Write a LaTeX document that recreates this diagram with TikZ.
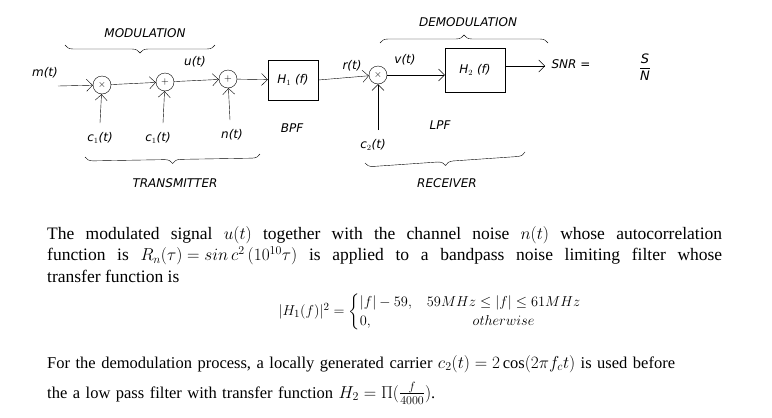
\documentclass[tikz,border=0pt]{standalone}
\usepackage{amsmath,amssymb}
\usepackage{fontspec}
\setmainfont{Liberation Serif}
\newfontfamily\hand{DejaVu Sans}
\usetikzlibrary{arrows.meta,decorations.pathreplacing}
\begin{document}
\begin{tikzpicture}[x=1pt,y=-1pt,
  hw/.style={font=\hand\itshape\fontsize{12}{14}\selectfont},
  op/.style={circle,draw,inner sep=0pt,minimum size=18pt,font=\normalsize},
  blk/.style={draw,minimum width=50pt,minimum height=40pt,font=\hand\itshape\fontsize{12}{14}\selectfont},
  ar/.style={-{Straight Barb[length=6pt]}},
  br/.style={decorate,decoration={brace,amplitude=8pt}}]
\useasboundingbox[fill=white] (0,0) rectangle (772,418);
\coordinate (in) at (58,86);
\node[op] (m1) at (102,85) {$\times$};
\node[op] (a1) at (165,82) {$+$};
\node[op] (a2) at (228,79) {$+$};
\node[blk] (h1) at (293,80) {H$_1$ (f)};
\node[op] (m2) at (378,75) {$\times$};
\node[blk,minimum width=60pt,minimum height=44pt] (h2) at (475,70) {H$_2$ (f)};
\coordinate (out) at (545,66);
\node[hw] (ml) at (45,73) {m(t)};
\node[hw] (ul) at (195,62) {u(t)};
\node[hw] (rl) at (352,66) {r(t)};
\node[hw] (vl) at (405,60) {v(t)};
\node[hw] (c1a) at (100,138) {c$_1$(t)};
\node[hw] (c1b) at (158,138) {c$_1$(t)};
\node[hw] (nl) at (232,135) {n(t)};
\node[hw] (c2) at (373,145) {c$_2$(t)};
\node[hw] (bpf) at (292,128) {BPF};
\node[hw] (lpf) at (440,125) {LPF};
\node[hw,anchor=west] (snr) at (548,64) {SNR =};
\node[hw,font=\hand\itshape\fontsize{13}{14}\selectfont] (sn) at (645,67) {$\dfrac{\text{S}}{\text{N}}$};
\node[hw] (mod) at (145,33) {MODULATION};
\node[hw] (dem) at (468,22) {DEMODULATION};
\node[hw] (tx) at (175,183) {TRANSMITTER};
\node[hw] (rx) at (447,183) {RECEIVER};
\draw[ar] (in) -- (m1);
\draw[ar] (m1) -- (a1);
\draw[ar] (a1) -- (a2);
\draw[ar] (a2) -- (h1);
\draw[ar] (h1.east) -- (m2);
\draw[ar] (m2) -- (h2.west|-m2);
\draw[ar] (h2.east|-out) -- (out);
\draw[ar] (c1a.north) ++(0,-6) -- (m1);
\draw[ar] (c1b.north) ++(5,-6) -- (a1);
\draw[ar] (nl.north) ++(-2,-6) -- (a2);
\draw[ar] (c2.north) ++(5,-6) -- (m2);
\draw[br] (215,45) -- (65,45);
\draw[br] (380,43) -- (548,43);
\draw[br] (260,154) -- (85,157);
\draw[br] (525,152) -- (365,163);
\node[anchor=north west,text width=675pt,align=justify,font=\fontsize{17.5}{21.5}\selectfont,inner sep=0pt] (p1) at (47,226)
{The modulated signal $u(t)$ together with the channel noise $n(t)$ whose autocorrelation\linebreak function is ${R_n(\tau)=sin\,c^2\,(10^{10}\tau)}$ is applied to a bandpass noise limiting filter whose\linebreak transfer function is};
\node[font=\fontsize{15}{16}\selectfont] (eq) at (430,312)
{$|H_1(f)|^2=\begin{cases}|f|-59, & 59MHz\le|f|\le 61MHz\\ 0, & \hfill otherwise\hfill\end{cases}$};
\node[anchor=north west,text width=700pt,align=left,font=\fontsize{16.5}{30}\selectfont,inner sep=0pt] (p2) at (47,355)
{For the demodulation process, a locally generated carrier $c_2(t)=2\cos(2\pi f_c t)$ is used before\\ the a low pass filter with transfer function $H_2=\Pi(\frac{f}{4000})$.};
\end{tikzpicture}
\end{document}
